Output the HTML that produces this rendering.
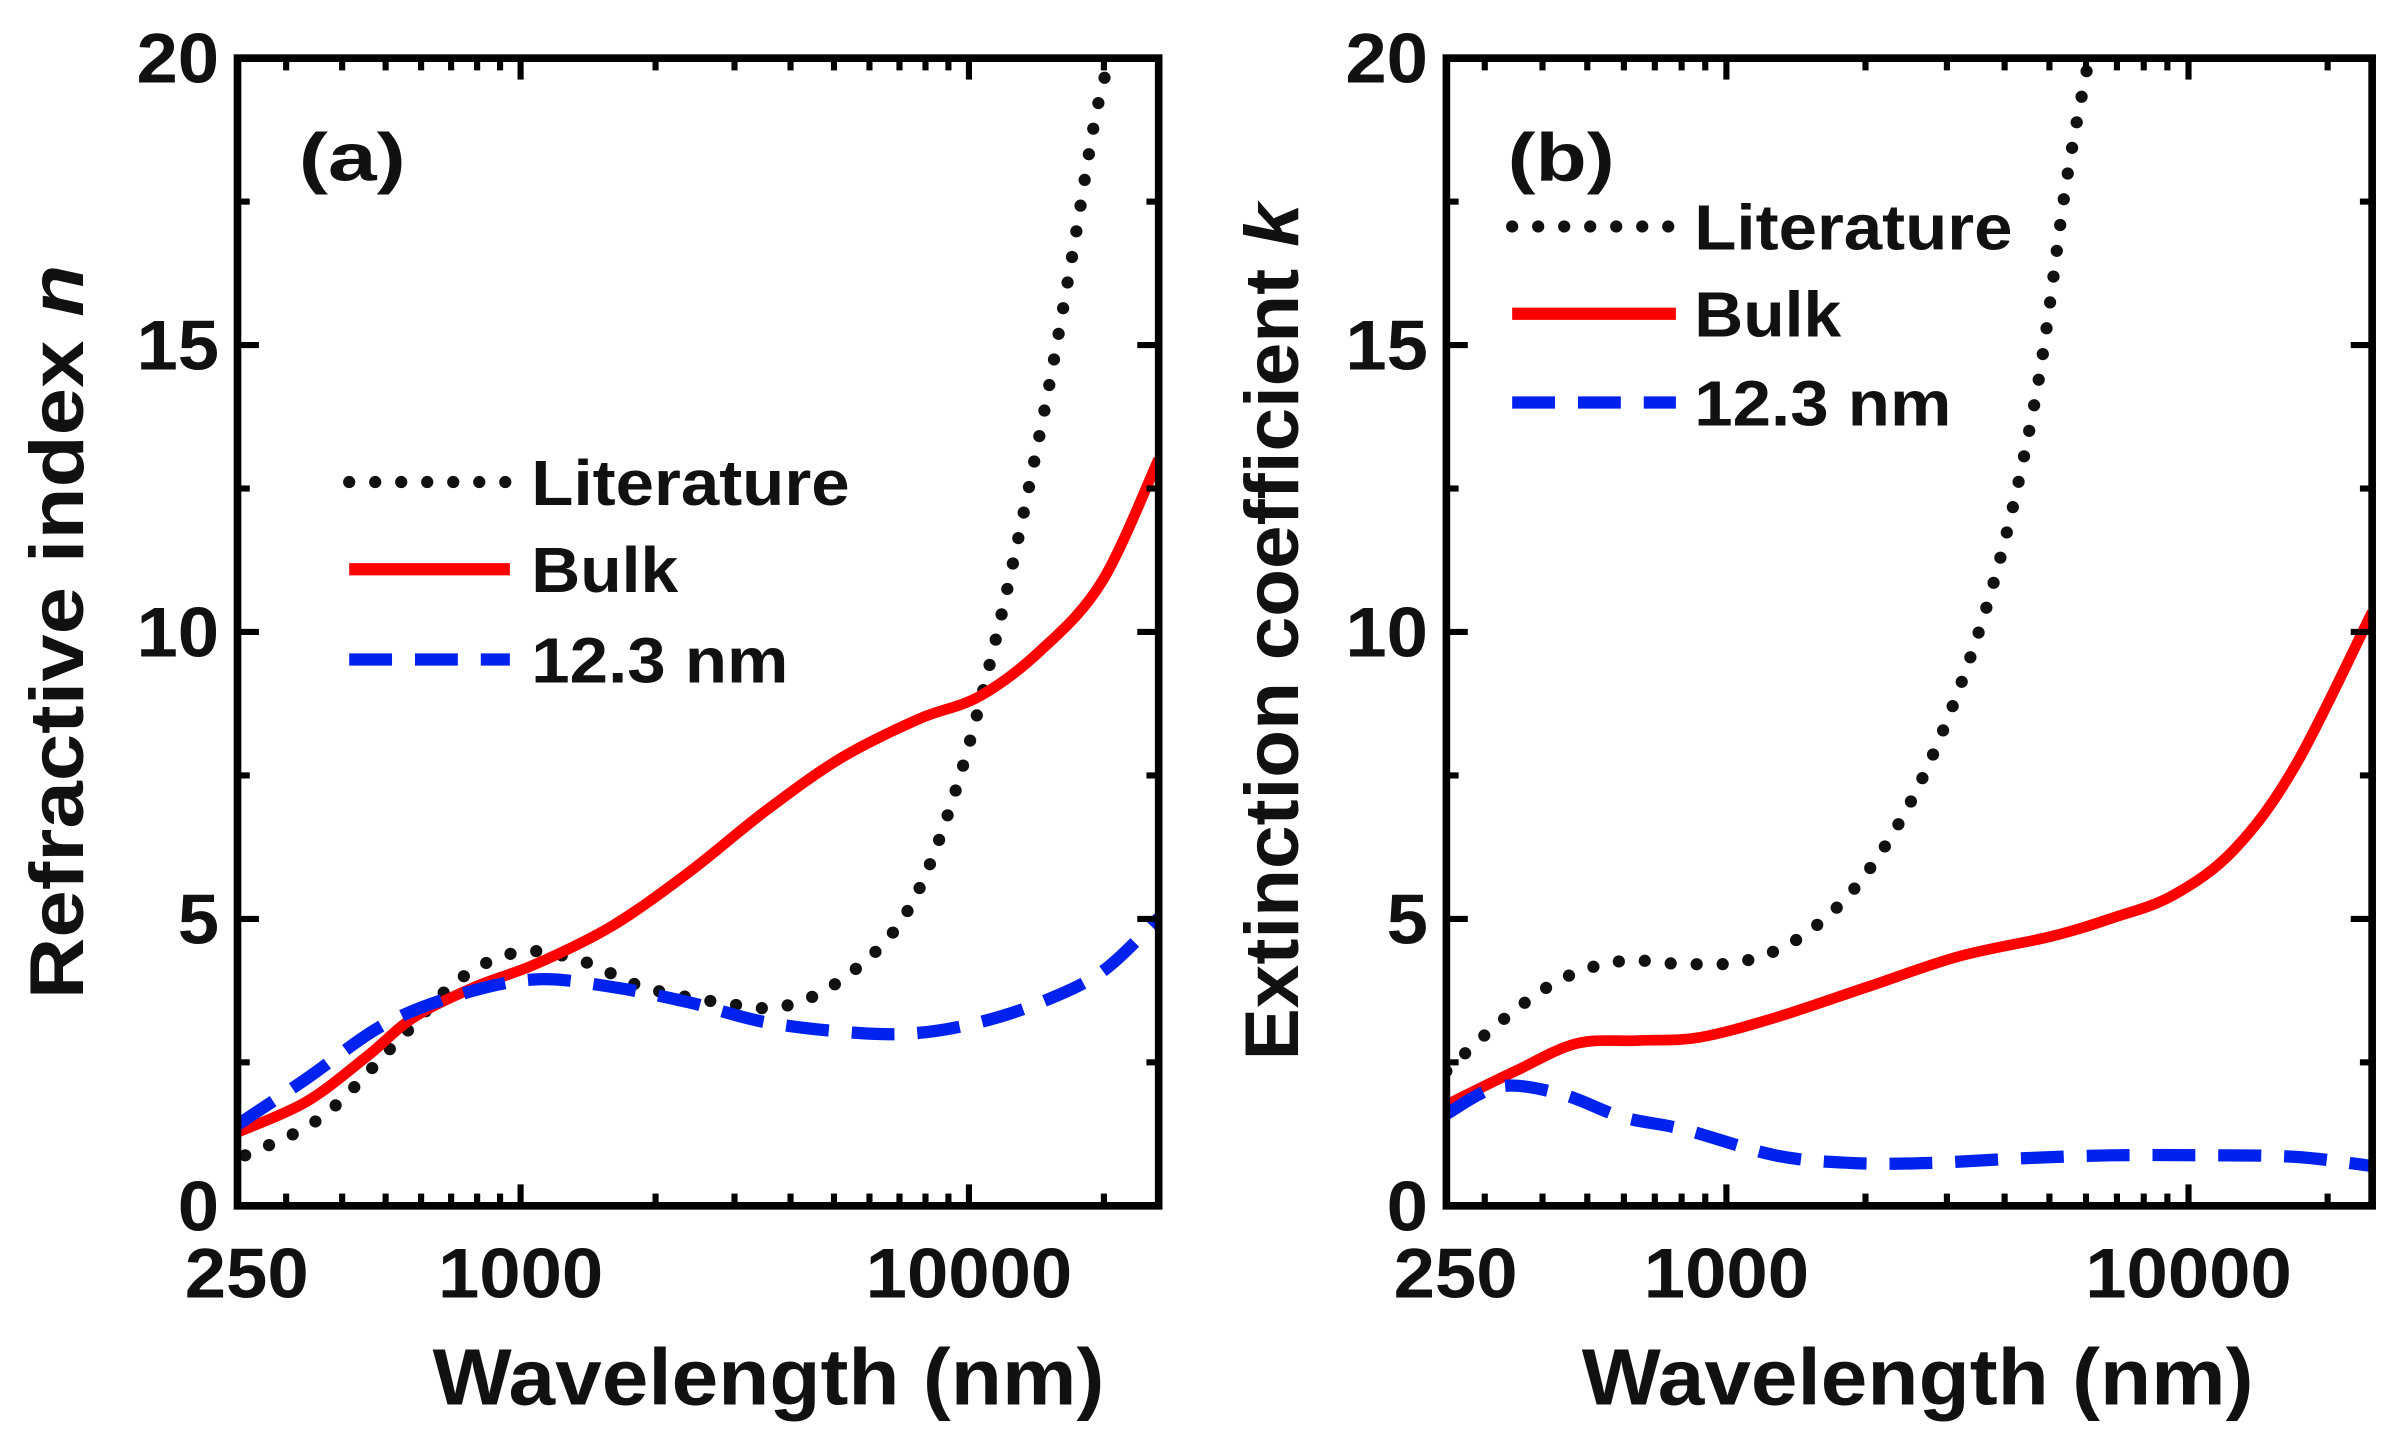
<!DOCTYPE html>
<html><head><meta charset="utf-8"><style>
html,body{margin:0;padding:0;background:#fff;}
svg{display:block;}
text{font-family:"Liberation Sans",Arial,sans-serif;font-weight:bold;fill:#111;}
</style></head><body>
<svg id="s" width="2400" height="1443" viewBox="0 0 1568 943" xmlns="http://www.w3.org/2000/svg"></svg>
<script>
const S=document.getElementById('s');let h='';
function pl(pts,st){return '<path d="'+smooth(pts)+'" fill="none" '+st+'/>';}
function smooth(p){let d='M'+p[0][0]+','+p[0][1];for(let i=0;i<p.length-1;i++){const p0=p[i-1]||p[i],p1=p[i],p2=p[i+1],p3=p[i+2]||p2;
d+=' C'+(p1[0]+(p2[0]-p0[0])/6)+','+(p1[1]+(p2[1]-p0[1])/6)+' '+(p2[0]-(p3[0]-p1[0])/6)+','+(p2[1]-(p3[1]-p1[1])/6)+' '+p2[0]+','+p2[1];}return d;}
function T_(x,y,fs,anchor,len,txt,extra){return '<text x="'+x+'" y="'+y+'" font-size="'+fs+'" text-anchor="'+anchor+'" textLength="'+len+'" lengthAdjust="spacingAndGlyphs" '+(extra||'')+'>'+txt+'</text>';}
const DOT='stroke="#111" stroke-width="8" stroke-linecap="round" stroke-dasharray="0 17"';
const DASH='stroke="#0022ee" stroke-width="8" stroke-dasharray="28 15"';
function panel(L,R,x1000,dec,xlc,ylab,ylx,ylen,lab,labx,laby,leg,curves){
 const T=38,B=788;
 h+='<defs><clipPath id="c'+L+'"><rect x="'+L+'" y="'+T+'" width="'+(R-L)+'" height="'+(B-T)+'"/></clipPath></defs>';
 h+='<g clip-path="url(#c'+L+')">';
 h+=pl(curves.lit,DOT);
 h+=pl(curves.bulk,'stroke="#f00" stroke-width="7"');
 h+=pl(curves.thin,DASH);
 h+='</g>';
 h+='<rect x="'+L+'" y="'+T+'" width="'+(R-L)+'" height="'+(B-T)+'" fill="none" stroke="#000" stroke-width="5"/>';
 const vals=[300,400,500,600,700,800,900,1000,2000,3000,4000,5000,6000,7000,8000,9000,10000,20000];
 vals.forEach(v=>{const x=x1000+dec*Math.log10(v/1000);if(x<=L||x>=R)return;const len=(v==1000||v==10000)?14:8;
  h+='<line x1="'+x+'" y1="'+B+'" x2="'+x+'" y2="'+(B-len)+'" stroke="#000" stroke-width="4"/>';
  h+='<line x1="'+x+'" y1="'+T+'" x2="'+x+'" y2="'+(T+len)+'" stroke="#000" stroke-width="4"/>';});
 for(let v=2.5;v<20;v+=2.5){const y=B-37.5*v;const len=(v%5==0)?14:8;
  h+='<line x1="'+L+'" y1="'+y+'" x2="'+(L+len)+'" y2="'+y+'" stroke="#000" stroke-width="4"/>';
  h+='<line x1="'+R+'" y1="'+y+'" x2="'+(R-len)+'" y2="'+y+'" stroke="#000" stroke-width="4"/>';}
 [0,5,10,15,20].forEach(v=>{const s=String(v);h+=T_(L-12,B-37.5*v+16,46,'end',s.length*27,s);});
 h+=T_(L+6,848,46,'middle',81,'250');
 h+=T_(x1000,848,46,'middle',108,'1000');
 h+=T_(x1000+dec,848,46,'middle',135,'10000');
 h+=T_(xlc,918,52,'middle',439,'Wavelength (nm)');
 h+='<text transform="translate('+ylx+',413) rotate(-90)" font-size="50" text-anchor="middle" textLength="'+ylen+'" lengthAdjust="spacingAndGlyphs">'+ylab+'</text>';
 h+=T_(labx,laby,44,'start',70,lab);
 const [lx1,lx2,tx,ys]=leg;
 h+='<line x1="'+lx1+'" y1="'+ys[0]+'" x2="'+lx2+'" y2="'+ys[0]+'" '+DOT+'/>';
 h+='<line x1="'+lx1+'" y1="'+ys[1]+'" x2="'+lx2+'" y2="'+ys[1]+'" stroke="#f00" stroke-width="8"/>';
 h+='<line x1="'+lx1+'" y1="'+ys[2]+'" x2="'+lx2+'" y2="'+ys[2]+'" '+DASH+'/>';
 [['Literature',208],['Bulk',96],['12.3 nm',168]].forEach((t,i)=>{h+=T_(tx,ys[i]+15,42,'start',t[1],t[0]);});
}
panel(155,757,340,293,502,'Refractive index <tspan font-style="italic">n</tspan>',54,480,'(a)',195,118,[228,333,347,[315,372,431]],{
 lit:[[160,755],[210,730],[260,680],[300,640],[340,622],[380,628],[420,645],[470,655],[510,658],[550,640],[590,600],[620,530],[650,420],[680,280],[700,170],[715,80],[725,38]],
 bulk:[[155,740],[200,720],[240,690],[270,665],[310,645],[350,630],[400,605],[450,570],[500,530],[550,495],[600,470],[640,455],[680,425],[720,380],[757,300]],
 thin:[[155,735],[200,705],[250,670],[300,650],[350,640],[400,645],[450,655],[500,668],[560,675],[600,675],[640,668],[680,655],[720,635],[757,600]]});
panel(945,1550,1128,302,1253,'Extinction coefficient <tspan font-style="italic">k</tspan>',848,560,'(b)',985,118,[988,1095,1107,[148,205,263]],{
 lit:[[945,700],[980,668],[1020,640],[1060,628],[1100,630],[1140,628],[1180,610],[1220,570],[1260,500],[1300,390],[1330,260],[1350,120],[1365,38]],
 bulk:[[945,722],[990,700],[1030,682],[1070,680],[1110,678],[1160,665],[1220,645],[1280,625],[1340,612],[1380,600],[1420,585],[1460,555],[1500,500],[1550,400]],
 thin:[[945,728],[980,710],[1020,715],[1060,730],[1100,738],[1160,755],[1210,760],[1260,760],[1320,757],[1380,755],[1440,755],[1500,756],[1550,762]]});
S.innerHTML=h;
</script>
</body></html>
